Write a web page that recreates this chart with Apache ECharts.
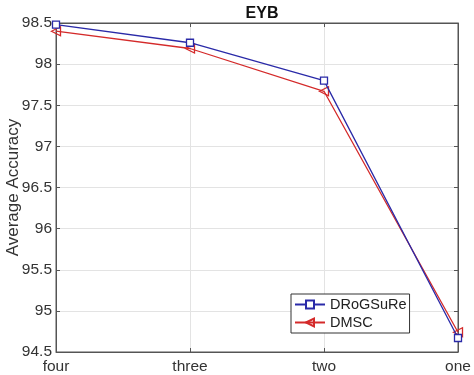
<!DOCTYPE html>
<html><head><meta charset="utf-8">
<script src="https://cdn.jsdelivr.net/npm/echarts@6/dist/echarts.min.js"></script>
<style>html,body{margin:0;padding:0;background:#fff}#c{width:474px;height:375px}</style>
</head><body><div id="c"></div>
<script>
const categories = ['four', 'three', 'two', 'one'];
const drogsure = [98.48, 98.26, 97.80, 94.67];
const dmsc = [98.40, 98.19, 97.67, 94.74];
const yTicks = [94.5, 95, 95.5, 96, 96.5, 97, 97.5, 98, 98.5];

const chart = echarts.init(document.getElementById('c'));
const font = 'Liberation Sans, Arial, sans-serif';
chart.setOption({
  animation: false,
  title: { text: 'EYB', left: 257, top: 1, textAlign: 'center',
    textStyle: { fontFamily: font, fontSize: 16, fontWeight: 'bold', color: '#111' } },
  grid: { left: 56, right: 16, top: 23, bottom: 23, show: true, borderColor: '#555', borderWidth: 1,
    containLabel: false, outerBoundsMode: 'none' },
  legend: {
    data: ['DRoGSuRe', 'DMSC'], orient: 'vertical', left: 291, top: 294,
    itemWidth: 30, itemHeight: 10, itemGap: 3,
    backgroundColor: '#fff', borderColor: '#333', borderWidth: 1, padding: [3, 3, 3, 3],
    textStyle: { fontFamily: font, fontSize: 14.5, color: '#222' }
  },
  xAxis: [{
    type: 'category', data: categories, boundaryGap: false,
    axisLine: { lineStyle: { color: '#555' } },
    axisTick: { inside: true, length: 4, lineStyle: { color: '#555' } },
    axisLabel: { fontFamily: font, fontSize: 15.5, color: '#333', margin: 7 },
    splitLine: { show: true, lineStyle: { color: '#e3e3e3' } }
  }, {
    type: 'category', data: categories, boundaryGap: false, position: 'top',
    axisLine: { lineStyle: { color: '#555' } },
    axisTick: { inside: true, length: 4, lineStyle: { color: '#555' } },
    axisLabel: { show: false }
  }],
  yAxis: [{
    type: 'value', min: 94.5, max: 98.5, interval: 0.5,
    name: 'Average Accuracy', nameLocation: 'middle', nameGap: 34,
    nameMoveOverlap: false,
    nameTextStyle: { fontFamily: font, fontSize: 17, color: '#333' },
    axisLine: { show: true, lineStyle: { color: '#555' } },
    axisTick: { show: true, inside: true, length: 4, lineStyle: { color: '#555' } },
    axisLabel: { fontFamily: font, fontSize: 15.5, color: '#333', margin: 4,
      formatter: v => { const t = yTicks.find(x => Math.abs(x - v) < 1e-6); return t === undefined ? '' : String(t); } },
    splitLine: { show: true, lineStyle: { color: '#e3e3e3' } }
  }, {
    type: 'value', min: 94.5, max: 98.5, interval: 0.5, position: 'right',
    axisLine: { show: true, lineStyle: { color: '#555' } },
    axisTick: { show: true, inside: true, length: 4, lineStyle: { color: '#555' } },
    axisLabel: { show: false }, splitLine: { show: false }
  }],
  series: [{
    name: 'DRoGSuRe', type: 'line', data: drogsure, symbol: 'rect', symbolSize: 7,
    lineStyle: { color: '#2a2aa8', width: 1.3 },
    itemStyle: { color: '#fff', borderColor: '#2a2aa8', borderWidth: 1.3 }, z: 3
  }, {
    name: 'DMSC', type: 'line', data: dmsc, symbol: 'triangle', symbolSize: 9, symbolRotate: 90,
    lineStyle: { color: '#d42a2a', width: 1.3 },
    itemStyle: { color: 'rgba(255,255,255,0)', borderColor: '#d42a2a', borderWidth: 1.3 }, z: 2
  }]
});
</script></body></html>
